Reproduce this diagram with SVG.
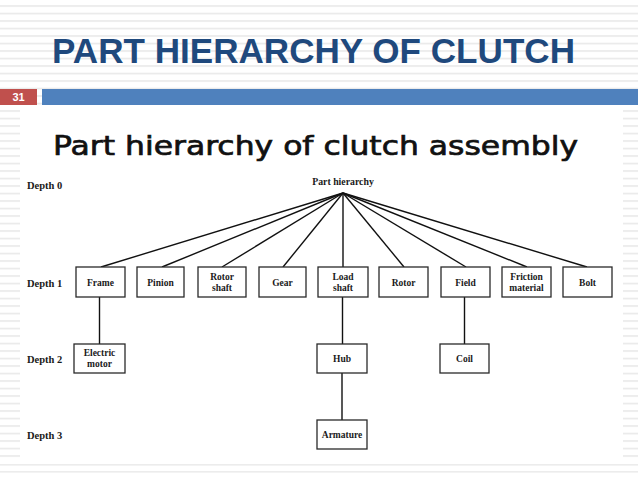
<svg xmlns="http://www.w3.org/2000/svg" width="638" height="478" viewBox="0 0 638 478">
<defs>
<pattern id="stripes" x="0" y="5.2" width="638" height="7.5" patternUnits="userSpaceOnUse">
<rect x="0" y="0" width="638" height="1.6" fill="#e9e9e9"/>
</pattern>
</defs>
<style>
.box{fill:#ffffff;stroke:#2a2a2a;stroke-width:1.3}
.lbl{font-family:"Liberation Serif","Times New Roman",serif;font-weight:bold;font-size:9.5px;fill:#1a1a1a;text-anchor:middle}
.depth{font-family:"Liberation Serif","Times New Roman",serif;font-weight:bold;font-size:10.5px;fill:#1a1a1a}
.conn line{stroke:#111111;stroke-width:1.4;fill:none}
</style>
<rect x="0" y="0" width="638" height="478" fill="#ffffff"/>
<rect x="0" y="0" width="638" height="462" fill="url(#stripes)"/>
<rect x="20" y="107" width="603" height="355" fill="#ffffff"/>
<rect x="0" y="464" width="638" height="1.6" fill="#ececec"/>
<rect x="0" y="471" width="638" height="1.6" fill="#ececec"/>

<g id="header">
<text x="52" y="63" font-family="'Liberation Sans',Arial,sans-serif" font-weight="bold" font-size="35" fill="#1F497D" textLength="523" lengthAdjust="spacingAndGlyphs">PART HIERARCHY OF CLUTCH</text>
<rect x="0" y="89" width="37" height="16" fill="#C0504D"/>
<rect x="42" y="89" width="596" height="16" fill="#4F81BD"/>
<text x="18.5" y="101" font-family="'Liberation Sans',Arial,sans-serif" font-weight="bold" font-size="11" fill="#ffffff" text-anchor="middle">31</text>
</g>

<g id="subtitle">
<text x="53" y="155" font-family="'DejaVu Sans',Verdana,sans-serif" font-size="27" fill="#111111" stroke="#111111" stroke-width="0.7" textLength="525" lengthAdjust="spacingAndGlyphs">Part hierarchy of clutch assembly</text>
</g>

<g id="depth-labels">
<text class="depth" x="27" y="189">Depth 0</text>
<text class="depth" x="27" y="287">Depth 1</text>
<text class="depth" x="27" y="363">Depth 2</text>
<text class="depth" x="27" y="439">Depth 3</text>
</g>

<g class="conn" id="connectors">
<line x1="343" y1="193" x2="101" y2="267"/>
<line x1="343" y1="193" x2="162" y2="267"/>
<line x1="343" y1="193" x2="222" y2="267"/>
<line x1="343" y1="193" x2="283" y2="267"/>
<line x1="343" y1="193" x2="343" y2="267"/>
<line x1="343" y1="193" x2="404" y2="267"/>
<line x1="343" y1="193" x2="466" y2="267"/>
<line x1="343" y1="193" x2="527" y2="267"/>
<line x1="343" y1="193" x2="587" y2="267"/>
<line x1="99.5" y1="297" x2="99.5" y2="344"/>
<line x1="342.5" y1="297" x2="342.5" y2="344"/>
<line x1="464.5" y1="297" x2="464.5" y2="344"/>
<line x1="342" y1="373" x2="342" y2="420"/>
</g>

<g id="root">
<text class="lbl" x="343" y="185" style="font-size:9.8px">Part hierarchy</text>
</g>

<g id="frame"><rect class="box" x="76" y="267" width="49" height="30"/><text class="lbl" x="100.5" y="285.5">Frame</text></g>
<g id="pinion"><rect class="box" x="137" y="267" width="47" height="30"/><text class="lbl" x="160.5" y="285.5">Pinion</text></g>
<g id="rotor-shaft"><rect class="box" x="198" y="267" width="48" height="30"/><text class="lbl" x="222" y="280">Rotor</text><text class="lbl" x="222" y="290.5">shaft</text></g>
<g id="gear"><rect class="box" x="259" y="267" width="47" height="30"/><text class="lbl" x="282.5" y="285.5">Gear</text></g>
<g id="load-shaft"><rect class="box" x="318" y="267" width="50" height="30"/><text class="lbl" x="343" y="280">Load</text><text class="lbl" x="343" y="290.5">shaft</text></g>
<g id="rotor"><rect class="box" x="379" y="267" width="49" height="30"/><text class="lbl" x="403.5" y="285.5">Rotor</text></g>
<g id="field"><rect class="box" x="441" y="267" width="49" height="30"/><text class="lbl" x="465.5" y="285.5">Field</text></g>
<g id="friction-material"><rect class="box" x="502" y="267" width="49" height="30"/><text class="lbl" x="526.5" y="280">Friction</text><text class="lbl" x="526.5" y="290.5">material</text></g>
<g id="bolt"><rect class="box" x="563" y="267" width="49" height="30"/><text class="lbl" x="587.5" y="285.5">Bolt</text></g>

<g id="electric-motor"><rect class="box" x="74" y="344" width="51" height="29"/><text class="lbl" x="99.5" y="356">Electric</text><text class="lbl" x="99.5" y="366.5">motor</text></g>
<g id="hub"><rect class="box" x="317" y="344" width="50" height="29"/><text class="lbl" x="342" y="362">Hub</text></g>
<g id="coil"><rect class="box" x="440" y="344" width="49" height="29"/><text class="lbl" x="464.5" y="362">Coil</text></g>
<g id="armature"><rect class="box" x="317" y="420" width="50" height="29"/><text class="lbl" x="342" y="438">Armature</text></g>
</svg>
